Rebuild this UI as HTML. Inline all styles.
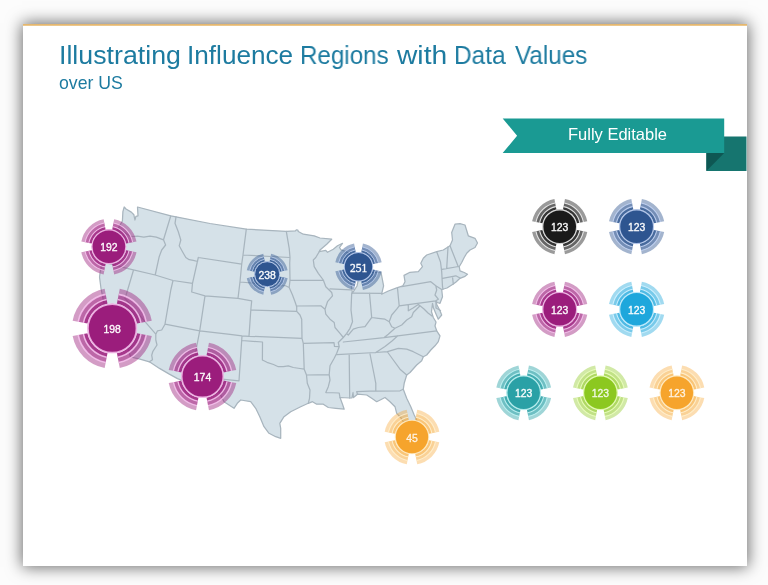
<!DOCTYPE html>
<html><head><meta charset="utf-8">
<style>
html,body{margin:0;padding:0;}
body{width:768px;height:585px;background:#fcfcfc;overflow:hidden;position:relative;font-family:"Liberation Sans",sans-serif;}
#slide{position:absolute;left:23px;top:24px;width:724px;height:542px;background:#fff;box-shadow:0 0 15px 1px rgba(0,0,0,0.6);}
#topline{position:absolute;left:23px;top:24px;width:724px;height:2px;background:linear-gradient(#dfae62,#f0cf98);}
#title{position:absolute;left:0;top:39.6px;font-size:25px;line-height:30px;color:#1d7ba0;white-space:nowrap;}
#title span{position:absolute;top:0;transform-origin:0 0;will-change:transform;}
#sub{will-change:transform;position:absolute;left:58.7px;top:73.3px;font-size:17.7px;line-height:20px;color:#1d7ba0;white-space:nowrap;}
svg{position:absolute;left:0;top:0;will-change:transform;filter:blur(0.4px);}
svg text{font-family:"Liberation Sans",sans-serif;}
#rib{will-change:transform;position:absolute;left:567.5px;top:117.1px;height:35px;line-height:35px;color:#fff;font-size:16.5px;white-space:nowrap;}
</style></head><body>
<div id="slide"></div><div id="topline"></div>
<div id="title"><span style="left:58.64px;transform:scaleX(1.0698)">Illustrating</span> <span style="left:186.59px;transform:scaleX(1.0461)">Influence</span> <span style="left:299.94px;transform:scaleX(0.9662)">Regions</span> <span style="left:396.50px;transform:scaleX(1.1278)">with</span> <span style="left:453.62px;transform:scaleX(0.9752)">Data</span> <span style="left:515.40px;transform:scaleX(0.9698)">Values</span></div>
<div id="sub">over US</div>
<svg width="768" height="585" viewBox="0 0 768 585">
<polygon points="706.4,136.5 746.5,136.5 746.5,171 706.4,171" fill="#16756f"/>
<polygon points="706.4,153 724.2,153 706.4,171" fill="#0e5753"/>
<polygon points="502.7,118.4 724.2,118.4 724.2,153.1 502.7,153.1 517.1,135.8" fill="#1a9a93"/>
<path d="M124.2,207.0L126.0,209.0L131.3,212.1L133.9,214.8L134.9,220.0L135.9,216.3L138.0,215.8L137.5,207.0L170.8,215.8L176.0,216.8L210.0,223.5L246.3,229.2L286.3,231.3L295.5,230.8L296.3,229.8L297.8,230.0L298.3,231.5L303.3,234.2L314.2,235.8L320.0,238.0L331.7,239.2L326.7,244.2L320.0,250.0L319.2,251.7L325.8,250.4L327.5,252.3L333.3,249.2L337.5,245.8L342.5,243.3L339.5,247.5L341.0,249.8L346.0,251.5L350.0,254.5L353.0,259.0L352.0,268.0L350.5,280.0L352.4,293.1L357.0,286.0L358.5,279.0L359.0,272.3L381.0,272.3L383.6,285.8L381.6,294.2L388.3,291.0L396.7,287.9L402.9,285.8L405.0,281.7L404.0,275.4L410.0,272.3L418.3,271.7L422.5,266.7L420.8,263.3L423.3,258.3L426.7,255.0L436.7,251.7L443.3,250.0L450.0,245.8L452.5,240.0L451.7,232.5L455.0,224.2L460.0,223.7L465.0,225.0L468.3,235.8L475.0,238.3L477.5,243.0L475.0,247.5L470.0,250.0L466.7,253.3L464.2,257.5L461.7,262.5L459.2,266.7L460.0,270.8L464.2,272.5L467.5,274.2L465.0,276.3L460.0,278.3L456.0,282.0L453.3,284.0L447.0,288.0L441.7,289.5L442.5,296.7L440.0,303.3L437.5,302.5L436.0,301.5L437.0,305.0L440.0,310.8L441.7,315.0L438.3,319.2L436.0,314.0L433.5,308.0L432.5,303.3L431.5,311.7L433.3,317.5L436.0,322.0L435.0,326.0L436.7,330.8L440.0,335.8L438.3,341.7L435.0,345.8L430.8,350.0L426.7,355.0L423.3,356.7L421.7,360.8L416.7,365.0L410.0,372.5L406.7,375.0L404.2,383.3L403.3,389.2L406.7,398.3L410.8,406.7L414.2,415.0L416.7,420.0L419.0,428.0L420.5,436.0L419.0,442.0L415.0,445.0L411.0,440.0L408.0,432.0L405.0,425.0L401.0,418.0L396.7,413.3L395.0,406.7L390.0,401.7L385.0,397.5L381.7,399.2L376.7,401.7L371.7,398.3L366.7,395.0L357.5,394.2L353.5,397.5L353.0,392.5L352.0,397.8L349.7,398.0L340.0,397.5L342.5,404.2L344.2,409.2L335.8,408.3L328.3,407.5L323.3,404.2L316.7,404.2L312.5,401.7L308.3,403.3L300.7,406.7L290.7,411.7L284.0,416.7L279.8,423.3L280.7,428.3L280.7,438.3L275.7,436.7L269.0,433.3L264.0,426.7L259.8,416.7L255.7,408.3L250.7,401.7L240.7,400.0L237.3,403.3L234.0,408.3L229.0,405.0L224.0,401.7L218.0,390.0L212.4,379.7L199.5,378.5L199.0,383.5L186.0,382.0L177.5,378.6L168.9,373.9L159.5,368.4L149.4,361.8L140.0,359.2L130.5,357.0L127.0,345.0L118.0,341.0L111.5,337.3L106.7,315.0L104.0,303.5L101.0,288.5L99.5,277.0L100.5,270.0L102.5,262.0L104.0,258.0L108.0,250.0L113.0,240.0L117.5,230.0L119.5,226.0L122.4,221.0L122.9,211.6Z" fill="#d5e1e8" stroke="#a8b5be" stroke-width="1.25" stroke-linejoin="round"/>
<path d="M170.8,215.8L163.5,239.8L165.6,245.0L161.7,250.0L159.2,256.7L155.2,275.0M117.5,230.0L125.0,233.0L131.0,236.5L137.5,236.1L143.8,237.1L150.0,236.1L156.3,237.1L163.5,239.8M102.5,262.0L129.2,268.8L155.2,275.0L173.0,280.5L192.5,283.3M133.3,270.8L127.1,291.7L125.0,298.4L155.8,334.2M165.0,324.2L161.7,330.0L157.5,330.8L155.8,334.2L155.8,340.0L157.0,345.0L152.9,351.3L151.7,355.2L152.5,359.8L149.4,361.8M173.0,280.5L170.8,290.0L165.0,324.2M176.0,216.8L175.0,223.3L178.3,231.7L180.8,240.0L179.2,245.8L182.5,251.7L185.8,257.5L189.2,259.7L193.3,260.3L197.6,261.5M198.3,257.5L192.5,283.3L191.7,292.0M198.3,257.5L241.7,264.2M191.7,292.0L205.0,295.8L238.0,298.3L251.7,300.8M246.3,229.2L243.0,255.0L241.7,264.2L240.0,281.7L238.0,298.3M251.7,300.8L250.8,310.0L249.0,336.3M250.8,310.0L296.7,311.3M165.0,324.2L199.7,330.8L230.0,334.3L242.0,335.8L249.0,336.3L302.0,338.3M205.0,295.8L199.7,330.8M199.7,330.8L196.7,346.7L194.0,362.0L191.0,381.0M242.0,335.8L239.0,380.8M239.0,380.8L212.4,378.2M241.6,340.5L262.5,342.0L262.4,360.0M262.4,360.0L267.0,362.3L273.5,364.5L278.3,366.7L283.3,366.7L288.3,365.8L293.3,367.5L300.0,368.5L304.2,369.2M296.7,311.3L300.0,315.0L301.7,319.2L302.0,338.3L303.3,343.3L304.2,369.2L306.5,375.0M306.5,375.0L307.3,383.3L310.0,390.0L309.5,398.3L308.3,403.3M306.5,375.0L329.2,374.7M303.3,343.3L334.0,342.6L334.5,346.5L338.8,346.7M319.2,251.7L315.8,257.5L313.3,260.0L314.2,266.7L318.3,273.3L323.3,280.0L325.8,286.7L331.7,292.5L332.5,295.8L327.5,301.7L325.0,309.2L325.8,314.2L330.0,319.2L334.2,322.5L335.0,327.5L340.0,333.3L343.3,337.5L338.3,342.5L339.2,346.7L336.7,353.3L334.2,358.3L330.0,365.8L329.2,374.7L330.0,380.0L328.3,386.7L325.8,392.5M325.8,392.5L339.2,393.0L340.0,397.5M286.3,231.3L289.2,248.3L290.0,257.5L289.7,263.3L290.0,280.0L289.2,287.5L292.5,295.0L295.0,301.7L296.7,306.7L296.7,311.3M243.0,255.0L290.0,257.5M240.0,282.0L270.0,284.5L280.0,286.0L285.0,285.5L289.2,287.5M290.0,280.3L323.3,280.3M296.7,306.0L320.8,305.8L325.0,309.2M330.0,288.8L351.0,289.8M351.7,293.0L351.0,310.0L352.5,321.7L350.0,328.3L346.7,333.3L343.3,337.5M346.7,333.8L348.3,335.0L353.3,329.2L358.3,327.5L365.0,326.7L369.2,320.8L371.7,317.5L378.3,318.3L385.0,319.2L389.2,321.7L391.7,315.0L396.7,309.2L399.2,305.8M369.5,293.2L371.7,317.5M352.4,293.1L381.7,293.3M397.5,288.3L399.2,305.8M399.2,305.8L435.8,300.8M401.7,286.7L430.8,281.7L435.8,285.8L436.7,290.0L435.0,295.0L438.3,299.2L435.8,300.8M435.8,285.8L441.7,289.5M436.7,251.7L440.5,262.0L441.7,271.7L442.5,286.7L443.0,289.5M448.0,247.0L446.7,268.5M450.0,245.8L458.3,266.7M442.0,269.3L458.5,266.5M442.5,278.3L455.8,275.8L460.0,278.0M452.5,276.7L453.3,284.0M436.0,301.5L436.0,308.0L440.5,310.5M395.0,328.3L401.7,325.0L406.7,320.0L411.7,316.7L413.3,312.5L418.3,307.5L420.0,305.8M408.3,304.7L408.3,310.8L413.0,308.0L418.3,304.5L420.0,305.8L424.0,309.0L428.0,313.0L432.0,316.0M389.2,321.7L391.7,326.7L395.0,328.3M395.0,328.3L388.3,334.2L384.2,337.5M343.3,342.0L384.2,337.7L436.7,330.8M397.5,336.0L392.0,341.0L385.0,346.5L375.8,352.5M336.7,354.7L375.8,352.5L387.5,351.7M387.5,351.7L398.3,348.3L406.7,349.2L413.3,351.7L423.3,356.7M387.5,352.0L393.3,360.0L400.0,369.2L406.7,375.0M349.2,355.0L349.7,398.0M370.0,354.0L374.2,375.0L375.8,383.3L375.8,390.8M357.5,394.2L356.7,391.7L375.8,390.8M375.8,391.2L400.0,390.8L403.3,389.2" fill="none" stroke="#a8b5be" stroke-width="1.25" stroke-linejoin="round" stroke-linecap="round"/>
<g transform="translate(108.90,246.80)">
<path d="M20.05,3.90A20.43,20.43 0 0 1 3.83,20.07L3.28,17.17A17.48,17.48 0 0 0 17.16,3.33ZM-3.83,20.07A20.43,20.43 0 0 1 -20.05,3.90L-17.16,3.33A17.48,17.48 0 0 0 -3.28,17.17ZM-20.05,-3.90A20.43,20.43 0 0 1 -3.83,-20.07L-3.28,-17.17A17.48,17.48 0 0 0 -17.16,-3.33ZM3.83,-20.07A20.43,20.43 0 0 1 20.05,-3.90L17.16,-3.33A17.48,17.48 0 0 0 3.28,-17.17Z" fill="#9b1d7c" fill-opacity="0.88"/>
<path d="M23.72,4.61A24.17,24.17 0 0 1 4.53,23.74L3.83,20.07A20.43,20.43 0 0 0 20.05,3.90ZM-4.53,23.74A24.17,24.17 0 0 1 -23.72,4.61L-20.05,3.90A20.43,20.43 0 0 0 -3.83,20.07ZM-23.72,-4.61A24.17,24.17 0 0 1 -4.53,-23.74L-3.83,-20.07A20.43,20.43 0 0 0 -20.05,-3.90ZM4.53,-23.74A24.17,24.17 0 0 1 23.72,-4.61L20.05,-3.90A20.43,20.43 0 0 0 3.83,-20.07Z" fill="#9b1d7c" fill-opacity="0.67"/>
<path d="M27.58,5.36A28.10,28.10 0 0 1 5.27,27.60L4.53,23.74A24.17,24.17 0 0 0 23.72,4.61ZM-5.27,27.60A28.10,28.10 0 0 1 -27.58,5.36L-23.72,4.61A24.17,24.17 0 0 0 -4.53,23.74ZM-27.58,-5.36A28.10,28.10 0 0 1 -5.27,-27.60L-4.53,-23.74A24.17,24.17 0 0 0 -23.72,-4.61ZM5.27,-27.60A28.10,28.10 0 0 1 27.58,-5.36L23.72,-4.61A24.17,24.17 0 0 0 4.53,-23.74Z" fill="#9b1d7c" fill-opacity="0.44"/>
<path d="M20.05,3.90A20.43,20.43 0 0 1 3.83,20.07M-3.83,20.07A20.43,20.43 0 0 1 -20.05,3.90M-20.05,-3.90A20.43,20.43 0 0 1 -3.83,-20.07M3.83,-20.07A20.43,20.43 0 0 1 20.05,-3.90" fill="none" stroke="#f7c3ee" stroke-opacity="0.85" stroke-width="1.07"/>
<path d="M23.72,4.61A24.17,24.17 0 0 1 4.53,23.74M-4.53,23.74A24.17,24.17 0 0 1 -23.72,4.61M-23.72,-4.61A24.17,24.17 0 0 1 -4.53,-23.74M4.53,-23.74A24.17,24.17 0 0 1 23.72,-4.61" fill="none" stroke="#f7c3ee" stroke-opacity="0.85" stroke-width="1.12"/>
<circle r="17.20" fill="#9b1d7c"/>
<circle r="16.94" fill="none" stroke="#f7c3ee" stroke-opacity="0.85" stroke-width="1.24"/>
<text x="0" y="4.62" font-size="10.4" text-anchor="middle" style="font-family:Liberation Sans,sans-serif" fill="#fff" fill-opacity="0.95" stroke="#fff" stroke-opacity="0.95" stroke-width="0.35" stroke-linejoin="round">192</text>
</g>
<g transform="translate(112.20,328.40)">
<path d="M28.76,5.59A29.30,29.30 0 0 1 5.49,28.78L4.70,24.62A25.07,25.07 0 0 0 24.61,4.78ZM-5.49,28.78A29.30,29.30 0 0 1 -28.76,5.59L-24.61,4.78A25.07,25.07 0 0 0 -4.70,24.62ZM-28.76,-5.59A29.30,29.30 0 0 1 -5.49,-28.78L-4.70,-24.62A25.07,25.07 0 0 0 -24.61,-4.78ZM5.49,-28.78A29.30,29.30 0 0 1 28.76,-5.59L24.61,-4.78A25.07,25.07 0 0 0 4.70,-24.62Z" fill="#9b1d7c" fill-opacity="0.88"/>
<path d="M34.02,6.61A34.66,34.66 0 0 1 6.49,34.04L5.49,28.78A29.30,29.30 0 0 0 28.76,5.59ZM-6.49,34.04A34.66,34.66 0 0 1 -34.02,6.61L-28.76,5.59A29.30,29.30 0 0 0 -5.49,28.78ZM-34.02,-6.61A34.66,34.66 0 0 1 -6.49,-34.04L-5.49,-28.78A29.30,29.30 0 0 0 -28.76,-5.59ZM6.49,-34.04A34.66,34.66 0 0 1 34.02,-6.61L28.76,-5.59A29.30,29.30 0 0 0 5.49,-28.78Z" fill="#9b1d7c" fill-opacity="0.67"/>
<path d="M39.56,7.69A40.30,40.30 0 0 1 7.55,39.59L6.49,34.04A34.66,34.66 0 0 0 34.02,6.61ZM-7.55,39.59A40.30,40.30 0 0 1 -39.56,7.69L-34.02,6.61A34.66,34.66 0 0 0 -6.49,34.04ZM-39.56,-7.69A40.30,40.30 0 0 1 -7.55,-39.59L-6.49,-34.04A34.66,34.66 0 0 0 -34.02,-6.61ZM7.55,-39.59A40.30,40.30 0 0 1 39.56,-7.69L34.02,-6.61A34.66,34.66 0 0 0 6.49,-34.04Z" fill="#9b1d7c" fill-opacity="0.44"/>
<path d="M28.76,5.59A29.30,29.30 0 0 1 5.49,28.78M-5.49,28.78A29.30,29.30 0 0 1 -28.76,5.59M-28.76,-5.59A29.30,29.30 0 0 1 -5.49,-28.78M5.49,-28.78A29.30,29.30 0 0 1 28.76,-5.59" fill="none" stroke="#f7c3ee" stroke-opacity="0.85" stroke-width="1.53"/>
<path d="M34.02,6.61A34.66,34.66 0 0 1 6.49,34.04M-6.49,34.04A34.66,34.66 0 0 1 -34.02,6.61M-34.02,-6.61A34.66,34.66 0 0 1 -6.49,-34.04M6.49,-34.04A34.66,34.66 0 0 1 34.02,-6.61" fill="none" stroke="#f7c3ee" stroke-opacity="0.85" stroke-width="1.61"/>
<circle r="24.66" fill="#9b1d7c"/>
<circle r="24.30" fill="none" stroke="#f7c3ee" stroke-opacity="0.85" stroke-width="1.77"/>
<text x="0" y="4.62" font-size="10.4" text-anchor="middle" style="font-family:Liberation Sans,sans-serif" fill="#fff" fill-opacity="0.95" stroke="#fff" stroke-opacity="0.95" stroke-width="0.35" stroke-linejoin="round">198</text>
</g>
<g transform="translate(202.50,376.50)">
<path d="M24.55,4.77A25.01,25.01 0 0 1 4.69,24.57L4.01,21.02A21.40,21.40 0 0 0 21.00,4.08ZM-4.69,24.57A25.01,25.01 0 0 1 -24.55,4.77L-21.00,4.08A21.40,21.40 0 0 0 -4.01,21.02ZM-24.55,-4.77A25.01,25.01 0 0 1 -4.69,-24.57L-4.01,-21.02A21.40,21.40 0 0 0 -21.00,-4.08ZM4.69,-24.57A25.01,25.01 0 0 1 24.55,-4.77L21.00,-4.08A21.40,21.40 0 0 0 4.01,-21.02Z" fill="#9b1d7c" fill-opacity="0.88"/>
<path d="M29.04,5.64A29.58,29.58 0 0 1 5.54,29.06L4.69,24.57A25.01,25.01 0 0 0 24.55,4.77ZM-5.54,29.06A29.58,29.58 0 0 1 -29.04,5.64L-24.55,4.77A25.01,25.01 0 0 0 -4.69,24.57ZM-29.04,-5.64A29.58,29.58 0 0 1 -5.54,-29.06L-4.69,-24.57A25.01,25.01 0 0 0 -24.55,-4.77ZM5.54,-29.06A29.58,29.58 0 0 1 29.04,-5.64L24.55,-4.77A25.01,25.01 0 0 0 4.69,-24.57Z" fill="#9b1d7c" fill-opacity="0.67"/>
<path d="M33.77,6.56A34.40,34.40 0 0 1 6.45,33.79L5.54,29.06A29.58,29.58 0 0 0 29.04,5.64ZM-6.45,33.79A34.40,34.40 0 0 1 -33.77,6.56L-29.04,5.64A29.58,29.58 0 0 0 -5.54,29.06ZM-33.77,-6.56A34.40,34.40 0 0 1 -6.45,-33.79L-5.54,-29.06A29.58,29.58 0 0 0 -29.04,-5.64ZM6.45,-33.79A34.40,34.40 0 0 1 33.77,-6.56L29.04,-5.64A29.58,29.58 0 0 0 5.54,-29.06Z" fill="#9b1d7c" fill-opacity="0.44"/>
<path d="M24.55,4.77A25.01,25.01 0 0 1 4.69,24.57M-4.69,24.57A25.01,25.01 0 0 1 -24.55,4.77M-24.55,-4.77A25.01,25.01 0 0 1 -4.69,-24.57M4.69,-24.57A25.01,25.01 0 0 1 24.55,-4.77" fill="none" stroke="#f7c3ee" stroke-opacity="0.85" stroke-width="1.31"/>
<path d="M29.04,5.64A29.58,29.58 0 0 1 5.54,29.06M-5.54,29.06A29.58,29.58 0 0 1 -29.04,5.64M-29.04,-5.64A29.58,29.58 0 0 1 -5.54,-29.06M5.54,-29.06A29.58,29.58 0 0 1 29.04,-5.64" fill="none" stroke="#f7c3ee" stroke-opacity="0.85" stroke-width="1.38"/>
<circle r="21.05" fill="#9b1d7c"/>
<circle r="20.74" fill="none" stroke="#f7c3ee" stroke-opacity="0.85" stroke-width="1.51"/>
<text x="0" y="4.62" font-size="10.4" text-anchor="middle" style="font-family:Liberation Sans,sans-serif" fill="#fff" fill-opacity="0.95" stroke="#fff" stroke-opacity="0.95" stroke-width="0.35" stroke-linejoin="round">174</text>
</g>
<g transform="translate(267.20,274.20)">
<path d="M14.84,2.89A15.12,15.12 0 0 1 2.83,14.85L2.42,12.71A12.94,12.94 0 0 0 12.70,2.47ZM-2.83,14.85A15.12,15.12 0 0 1 -14.84,2.89L-12.70,2.47A12.94,12.94 0 0 0 -2.42,12.71ZM-14.84,-2.89A15.12,15.12 0 0 1 -2.83,-14.85L-2.42,-12.71A12.94,12.94 0 0 0 -12.70,-2.47ZM2.83,-14.85A15.12,15.12 0 0 1 14.84,-2.89L12.70,-2.47A12.94,12.94 0 0 0 2.42,-12.71Z" fill="#2e5590" fill-opacity="0.88"/>
<path d="M17.56,3.41A17.89,17.89 0 0 1 3.35,17.57L2.83,14.85A15.12,15.12 0 0 0 14.84,2.89ZM-3.35,17.57A17.89,17.89 0 0 1 -17.56,3.41L-14.84,2.89A15.12,15.12 0 0 0 -2.83,14.85ZM-17.56,-3.41A17.89,17.89 0 0 1 -3.35,-17.57L-2.83,-14.85A15.12,15.12 0 0 0 -14.84,-2.89ZM3.35,-17.57A17.89,17.89 0 0 1 17.56,-3.41L14.84,-2.89A15.12,15.12 0 0 0 2.83,-14.85Z" fill="#2e5590" fill-opacity="0.67"/>
<path d="M20.42,3.97A20.80,20.80 0 0 1 3.90,20.43L3.35,17.57A17.89,17.89 0 0 0 17.56,3.41ZM-3.90,20.43A20.80,20.80 0 0 1 -20.42,3.97L-17.56,3.41A17.89,17.89 0 0 0 -3.35,17.57ZM-20.42,-3.97A20.80,20.80 0 0 1 -3.90,-20.43L-3.35,-17.57A17.89,17.89 0 0 0 -17.56,-3.41ZM3.90,-20.43A20.80,20.80 0 0 1 20.42,-3.97L17.56,-3.41A17.89,17.89 0 0 0 3.35,-17.57Z" fill="#2e5590" fill-opacity="0.44"/>
<path d="M14.84,2.89A15.12,15.12 0 0 1 2.83,14.85M-2.83,14.85A15.12,15.12 0 0 1 -14.84,2.89M-14.84,-2.89A15.12,15.12 0 0 1 -2.83,-14.85M2.83,-14.85A15.12,15.12 0 0 1 14.84,-2.89" fill="none" stroke="#c3d4f5" stroke-opacity="0.85" stroke-width="0.85"/>
<path d="M17.56,3.41A17.89,17.89 0 0 1 3.35,17.57M-3.35,17.57A17.89,17.89 0 0 1 -17.56,3.41M-17.56,-3.41A17.89,17.89 0 0 1 -3.35,-17.57M3.35,-17.57A17.89,17.89 0 0 1 17.56,-3.41" fill="none" stroke="#c3d4f5" stroke-opacity="0.85" stroke-width="0.85"/>
<circle r="12.73" fill="#2e5590"/>
<circle r="12.54" fill="none" stroke="#c3d4f5" stroke-opacity="0.85" stroke-width="1.00"/>
<text x="0" y="4.62" font-size="10.4" text-anchor="middle" style="font-family:Liberation Sans,sans-serif" fill="#fff" fill-opacity="0.95" stroke="#fff" stroke-opacity="0.95" stroke-width="0.35" stroke-linejoin="round">238</text>
</g>
<g transform="translate(358.50,266.80)">
<path d="M16.84,3.27A17.16,17.16 0 0 1 3.21,16.85L2.75,14.42A14.68,14.68 0 0 0 14.41,2.80ZM-3.21,16.85A17.16,17.16 0 0 1 -16.84,3.27L-14.41,2.80A14.68,14.68 0 0 0 -2.75,14.42ZM-16.84,-3.27A17.16,17.16 0 0 1 -3.21,-16.85L-2.75,-14.42A14.68,14.68 0 0 0 -14.41,-2.80ZM3.21,-16.85A17.16,17.16 0 0 1 16.84,-3.27L14.41,-2.80A14.68,14.68 0 0 0 2.75,-14.42Z" fill="#2e5590" fill-opacity="0.88"/>
<path d="M19.92,3.87A20.30,20.30 0 0 1 3.80,19.94L3.21,16.85A17.16,17.16 0 0 0 16.84,3.27ZM-3.80,19.94A20.30,20.30 0 0 1 -19.92,3.87L-16.84,3.27A17.16,17.16 0 0 0 -3.21,16.85ZM-19.92,-3.87A20.30,20.30 0 0 1 -3.80,-19.94L-3.21,-16.85A17.16,17.16 0 0 0 -16.84,-3.27ZM3.80,-19.94A20.30,20.30 0 0 1 19.92,-3.87L16.84,-3.27A17.16,17.16 0 0 0 3.21,-16.85Z" fill="#2e5590" fill-opacity="0.67"/>
<path d="M23.17,4.50A23.60,23.60 0 0 1 4.42,23.18L3.80,19.94A20.30,20.30 0 0 0 19.92,3.87ZM-4.42,23.18A23.60,23.60 0 0 1 -23.17,4.50L-19.92,3.87A20.30,20.30 0 0 0 -3.80,19.94ZM-23.17,-4.50A23.60,23.60 0 0 1 -4.42,-23.18L-3.80,-19.94A20.30,20.30 0 0 0 -19.92,-3.87ZM4.42,-23.18A23.60,23.60 0 0 1 23.17,-4.50L19.92,-3.87A20.30,20.30 0 0 0 3.80,-19.94Z" fill="#2e5590" fill-opacity="0.44"/>
<path d="M16.84,3.27A17.16,17.16 0 0 1 3.21,16.85M-3.21,16.85A17.16,17.16 0 0 1 -16.84,3.27M-16.84,-3.27A17.16,17.16 0 0 1 -3.21,-16.85M3.21,-16.85A17.16,17.16 0 0 1 16.84,-3.27" fill="none" stroke="#c3d4f5" stroke-opacity="0.85" stroke-width="0.90"/>
<path d="M19.92,3.87A20.30,20.30 0 0 1 3.80,19.94M-3.80,19.94A20.30,20.30 0 0 1 -19.92,3.87M-19.92,-3.87A20.30,20.30 0 0 1 -3.80,-19.94M3.80,-19.94A20.30,20.30 0 0 1 19.92,-3.87" fill="none" stroke="#c3d4f5" stroke-opacity="0.85" stroke-width="0.94"/>
<circle r="14.44" fill="#2e5590"/>
<circle r="14.23" fill="none" stroke="#c3d4f5" stroke-opacity="0.85" stroke-width="1.04"/>
<text x="0" y="5.02" font-size="11.5" text-anchor="middle" style="font-family:Liberation Serif,serif" fill="#fff" fill-opacity="0.95" stroke="#fff" stroke-opacity="0.95" stroke-width="0.35" stroke-linejoin="round">251</text>
</g>
<g transform="translate(412.00,437.00)">
<path d="M19.84,3.86A20.21,20.21 0 0 1 3.79,19.85L3.24,16.99A17.29,17.29 0 0 0 16.97,3.30ZM-3.79,19.85A20.21,20.21 0 0 1 -19.84,3.86L-16.97,3.30A17.29,17.29 0 0 0 -3.24,16.99ZM-19.84,-3.86A20.21,20.21 0 0 1 -3.79,-19.85L-3.24,-16.99A17.29,17.29 0 0 0 -16.97,-3.30ZM3.79,-19.85A20.21,20.21 0 0 1 19.84,-3.86L16.97,-3.30A17.29,17.29 0 0 0 3.24,-16.99Z" fill="#f6a42c" fill-opacity="0.64"/>
<path d="M23.47,4.56A23.91,23.91 0 0 1 4.48,23.48L3.79,19.85A20.21,20.21 0 0 0 19.84,3.86ZM-4.48,23.48A23.91,23.91 0 0 1 -23.47,4.56L-19.84,3.86A20.21,20.21 0 0 0 -3.79,19.85ZM-23.47,-4.56A23.91,23.91 0 0 1 -4.48,-23.48L-3.79,-19.85A20.21,20.21 0 0 0 -19.84,-3.86ZM4.48,-23.48A23.91,23.91 0 0 1 23.47,-4.56L19.84,-3.86A20.21,20.21 0 0 0 3.79,-19.85Z" fill="#f6a42c" fill-opacity="0.5"/>
<path d="M27.29,5.30A27.80,27.80 0 0 1 5.21,27.31L4.48,23.48A23.91,23.91 0 0 0 23.47,4.56ZM-5.21,27.31A27.80,27.80 0 0 1 -27.29,5.30L-23.47,4.56A23.91,23.91 0 0 0 -4.48,23.48ZM-27.29,-5.30A27.80,27.80 0 0 1 -5.21,-27.31L-4.48,-23.48A23.91,23.91 0 0 0 -23.47,-4.56ZM5.21,-27.31A27.80,27.80 0 0 1 27.29,-5.30L23.47,-4.56A23.91,23.91 0 0 0 4.48,-23.48Z" fill="#f6a42c" fill-opacity="0.37"/>
<path d="M19.84,3.86A20.21,20.21 0 0 1 3.79,19.85M-3.79,19.85A20.21,20.21 0 0 1 -19.84,3.86M-19.84,-3.86A20.21,20.21 0 0 1 -3.79,-19.85M3.79,-19.85A20.21,20.21 0 0 1 19.84,-3.86" fill="none" stroke="#fff1cf" stroke-opacity="0.85" stroke-width="1.06"/>
<path d="M23.47,4.56A23.91,23.91 0 0 1 4.48,23.48M-4.48,23.48A23.91,23.91 0 0 1 -23.47,4.56M-23.47,-4.56A23.91,23.91 0 0 1 -4.48,-23.48M4.48,-23.48A23.91,23.91 0 0 1 23.47,-4.56" fill="none" stroke="#fff1cf" stroke-opacity="0.85" stroke-width="1.11"/>
<circle r="17.01" fill="#f6a42c"/>
<circle r="16.76" fill="none" stroke="#fff1cf" stroke-opacity="0.85" stroke-width="1.22"/>
<text x="0" y="4.62" font-size="10.4" text-anchor="middle" style="font-family:Liberation Sans,sans-serif" fill="#fff" fill-opacity="0.78" stroke="#fff" stroke-opacity="0.78" stroke-width="0.35" stroke-linejoin="round">45</text>
</g>
<g transform="translate(559.70,226.70)">
<path d="M20.05,3.90A20.43,20.43 0 0 1 3.83,20.07L3.28,17.17A17.48,17.48 0 0 0 17.16,3.33ZM-3.83,20.07A20.43,20.43 0 0 1 -20.05,3.90L-17.16,3.33A17.48,17.48 0 0 0 -3.28,17.17ZM-20.05,-3.90A20.43,20.43 0 0 1 -3.83,-20.07L-3.28,-17.17A17.48,17.48 0 0 0 -17.16,-3.33ZM3.83,-20.07A20.43,20.43 0 0 1 20.05,-3.90L17.16,-3.33A17.48,17.48 0 0 0 3.28,-17.17Z" fill="#1a1a1a" fill-opacity="0.88"/>
<path d="M23.72,4.61A24.17,24.17 0 0 1 4.53,23.74L3.83,20.07A20.43,20.43 0 0 0 20.05,3.90ZM-4.53,23.74A24.17,24.17 0 0 1 -23.72,4.61L-20.05,3.90A20.43,20.43 0 0 0 -3.83,20.07ZM-23.72,-4.61A24.17,24.17 0 0 1 -4.53,-23.74L-3.83,-20.07A20.43,20.43 0 0 0 -20.05,-3.90ZM4.53,-23.74A24.17,24.17 0 0 1 23.72,-4.61L20.05,-3.90A20.43,20.43 0 0 0 3.83,-20.07Z" fill="#1a1a1a" fill-opacity="0.67"/>
<path d="M27.58,5.36A28.10,28.10 0 0 1 5.27,27.60L4.53,23.74A24.17,24.17 0 0 0 23.72,4.61ZM-5.27,27.60A28.10,28.10 0 0 1 -27.58,5.36L-23.72,4.61A24.17,24.17 0 0 0 -4.53,23.74ZM-27.58,-5.36A28.10,28.10 0 0 1 -5.27,-27.60L-4.53,-23.74A24.17,24.17 0 0 0 -23.72,-4.61ZM5.27,-27.60A28.10,28.10 0 0 1 27.58,-5.36L23.72,-4.61A24.17,24.17 0 0 0 4.53,-23.74Z" fill="#1a1a1a" fill-opacity="0.44"/>
<path d="M20.05,3.90A20.43,20.43 0 0 1 3.83,20.07M-3.83,20.07A20.43,20.43 0 0 1 -20.05,3.90M-20.05,-3.90A20.43,20.43 0 0 1 -3.83,-20.07M3.83,-20.07A20.43,20.43 0 0 1 20.05,-3.90" fill="none" stroke="#f2f2f2" stroke-opacity="0.85" stroke-width="1.07"/>
<path d="M23.72,4.61A24.17,24.17 0 0 1 4.53,23.74M-4.53,23.74A24.17,24.17 0 0 1 -23.72,4.61M-23.72,-4.61A24.17,24.17 0 0 1 -4.53,-23.74M4.53,-23.74A24.17,24.17 0 0 1 23.72,-4.61" fill="none" stroke="#f2f2f2" stroke-opacity="0.85" stroke-width="1.12"/>
<circle r="17.20" fill="#1a1a1a"/>
<circle r="16.94" fill="none" stroke="#f2f2f2" stroke-opacity="0.85" stroke-width="1.24"/>
<text x="0" y="4.62" font-size="10.4" text-anchor="middle" style="font-family:Liberation Sans,sans-serif" fill="#fff" fill-opacity="0.95" stroke="#fff" stroke-opacity="0.95" stroke-width="0.35" stroke-linejoin="round">123</text>
</g>
<g transform="translate(636.60,226.70)">
<path d="M20.05,3.90A20.43,20.43 0 0 1 3.83,20.07L3.28,17.17A17.48,17.48 0 0 0 17.16,3.33ZM-3.83,20.07A20.43,20.43 0 0 1 -20.05,3.90L-17.16,3.33A17.48,17.48 0 0 0 -3.28,17.17ZM-20.05,-3.90A20.43,20.43 0 0 1 -3.83,-20.07L-3.28,-17.17A17.48,17.48 0 0 0 -17.16,-3.33ZM3.83,-20.07A20.43,20.43 0 0 1 20.05,-3.90L17.16,-3.33A17.48,17.48 0 0 0 3.28,-17.17Z" fill="#2e5590" fill-opacity="0.88"/>
<path d="M23.72,4.61A24.17,24.17 0 0 1 4.53,23.74L3.83,20.07A20.43,20.43 0 0 0 20.05,3.90ZM-4.53,23.74A24.17,24.17 0 0 1 -23.72,4.61L-20.05,3.90A20.43,20.43 0 0 0 -3.83,20.07ZM-23.72,-4.61A24.17,24.17 0 0 1 -4.53,-23.74L-3.83,-20.07A20.43,20.43 0 0 0 -20.05,-3.90ZM4.53,-23.74A24.17,24.17 0 0 1 23.72,-4.61L20.05,-3.90A20.43,20.43 0 0 0 3.83,-20.07Z" fill="#2e5590" fill-opacity="0.67"/>
<path d="M27.58,5.36A28.10,28.10 0 0 1 5.27,27.60L4.53,23.74A24.17,24.17 0 0 0 23.72,4.61ZM-5.27,27.60A28.10,28.10 0 0 1 -27.58,5.36L-23.72,4.61A24.17,24.17 0 0 0 -4.53,23.74ZM-27.58,-5.36A28.10,28.10 0 0 1 -5.27,-27.60L-4.53,-23.74A24.17,24.17 0 0 0 -23.72,-4.61ZM5.27,-27.60A28.10,28.10 0 0 1 27.58,-5.36L23.72,-4.61A24.17,24.17 0 0 0 4.53,-23.74Z" fill="#2e5590" fill-opacity="0.44"/>
<path d="M20.05,3.90A20.43,20.43 0 0 1 3.83,20.07M-3.83,20.07A20.43,20.43 0 0 1 -20.05,3.90M-20.05,-3.90A20.43,20.43 0 0 1 -3.83,-20.07M3.83,-20.07A20.43,20.43 0 0 1 20.05,-3.90" fill="none" stroke="#c3d4f5" stroke-opacity="0.85" stroke-width="1.07"/>
<path d="M23.72,4.61A24.17,24.17 0 0 1 4.53,23.74M-4.53,23.74A24.17,24.17 0 0 1 -23.72,4.61M-23.72,-4.61A24.17,24.17 0 0 1 -4.53,-23.74M4.53,-23.74A24.17,24.17 0 0 1 23.72,-4.61" fill="none" stroke="#c3d4f5" stroke-opacity="0.85" stroke-width="1.12"/>
<circle r="17.20" fill="#2e5590"/>
<circle r="16.94" fill="none" stroke="#c3d4f5" stroke-opacity="0.85" stroke-width="1.24"/>
<text x="0" y="4.62" font-size="10.4" text-anchor="middle" style="font-family:Liberation Sans,sans-serif" fill="#fff" fill-opacity="0.95" stroke="#fff" stroke-opacity="0.95" stroke-width="0.35" stroke-linejoin="round">123</text>
</g>
<g transform="translate(559.70,309.30)">
<path d="M20.05,3.90A20.43,20.43 0 0 1 3.83,20.07L3.28,17.17A17.48,17.48 0 0 0 17.16,3.33ZM-3.83,20.07A20.43,20.43 0 0 1 -20.05,3.90L-17.16,3.33A17.48,17.48 0 0 0 -3.28,17.17ZM-20.05,-3.90A20.43,20.43 0 0 1 -3.83,-20.07L-3.28,-17.17A17.48,17.48 0 0 0 -17.16,-3.33ZM3.83,-20.07A20.43,20.43 0 0 1 20.05,-3.90L17.16,-3.33A17.48,17.48 0 0 0 3.28,-17.17Z" fill="#9b1d7c" fill-opacity="0.88"/>
<path d="M23.72,4.61A24.17,24.17 0 0 1 4.53,23.74L3.83,20.07A20.43,20.43 0 0 0 20.05,3.90ZM-4.53,23.74A24.17,24.17 0 0 1 -23.72,4.61L-20.05,3.90A20.43,20.43 0 0 0 -3.83,20.07ZM-23.72,-4.61A24.17,24.17 0 0 1 -4.53,-23.74L-3.83,-20.07A20.43,20.43 0 0 0 -20.05,-3.90ZM4.53,-23.74A24.17,24.17 0 0 1 23.72,-4.61L20.05,-3.90A20.43,20.43 0 0 0 3.83,-20.07Z" fill="#9b1d7c" fill-opacity="0.67"/>
<path d="M27.58,5.36A28.10,28.10 0 0 1 5.27,27.60L4.53,23.74A24.17,24.17 0 0 0 23.72,4.61ZM-5.27,27.60A28.10,28.10 0 0 1 -27.58,5.36L-23.72,4.61A24.17,24.17 0 0 0 -4.53,23.74ZM-27.58,-5.36A28.10,28.10 0 0 1 -5.27,-27.60L-4.53,-23.74A24.17,24.17 0 0 0 -23.72,-4.61ZM5.27,-27.60A28.10,28.10 0 0 1 27.58,-5.36L23.72,-4.61A24.17,24.17 0 0 0 4.53,-23.74Z" fill="#9b1d7c" fill-opacity="0.44"/>
<path d="M20.05,3.90A20.43,20.43 0 0 1 3.83,20.07M-3.83,20.07A20.43,20.43 0 0 1 -20.05,3.90M-20.05,-3.90A20.43,20.43 0 0 1 -3.83,-20.07M3.83,-20.07A20.43,20.43 0 0 1 20.05,-3.90" fill="none" stroke="#f7c3ee" stroke-opacity="0.85" stroke-width="1.07"/>
<path d="M23.72,4.61A24.17,24.17 0 0 1 4.53,23.74M-4.53,23.74A24.17,24.17 0 0 1 -23.72,4.61M-23.72,-4.61A24.17,24.17 0 0 1 -4.53,-23.74M4.53,-23.74A24.17,24.17 0 0 1 23.72,-4.61" fill="none" stroke="#f7c3ee" stroke-opacity="0.85" stroke-width="1.12"/>
<circle r="17.20" fill="#9b1d7c"/>
<circle r="16.94" fill="none" stroke="#f7c3ee" stroke-opacity="0.85" stroke-width="1.24"/>
<text x="0" y="4.62" font-size="10.4" text-anchor="middle" style="font-family:Liberation Sans,sans-serif" fill="#fff" fill-opacity="0.95" stroke="#fff" stroke-opacity="0.95" stroke-width="0.35" stroke-linejoin="round">123</text>
</g>
<g transform="translate(636.60,309.30)">
<path d="M20.05,3.90A20.43,20.43 0 0 1 3.83,20.07L3.28,17.17A17.48,17.48 0 0 0 17.16,3.33ZM-3.83,20.07A20.43,20.43 0 0 1 -20.05,3.90L-17.16,3.33A17.48,17.48 0 0 0 -3.28,17.17ZM-20.05,-3.90A20.43,20.43 0 0 1 -3.83,-20.07L-3.28,-17.17A17.48,17.48 0 0 0 -17.16,-3.33ZM3.83,-20.07A20.43,20.43 0 0 1 20.05,-3.90L17.16,-3.33A17.48,17.48 0 0 0 3.28,-17.17Z" fill="#1ea7dc" fill-opacity="0.78"/>
<path d="M23.72,4.61A24.17,24.17 0 0 1 4.53,23.74L3.83,20.07A20.43,20.43 0 0 0 20.05,3.90ZM-4.53,23.74A24.17,24.17 0 0 1 -23.72,4.61L-20.05,3.90A20.43,20.43 0 0 0 -3.83,20.07ZM-23.72,-4.61A24.17,24.17 0 0 1 -4.53,-23.74L-3.83,-20.07A20.43,20.43 0 0 0 -20.05,-3.90ZM4.53,-23.74A24.17,24.17 0 0 1 23.72,-4.61L20.05,-3.90A20.43,20.43 0 0 0 3.83,-20.07Z" fill="#1ea7dc" fill-opacity="0.6"/>
<path d="M27.58,5.36A28.10,28.10 0 0 1 5.27,27.60L4.53,23.74A24.17,24.17 0 0 0 23.72,4.61ZM-5.27,27.60A28.10,28.10 0 0 1 -27.58,5.36L-23.72,4.61A24.17,24.17 0 0 0 -4.53,23.74ZM-27.58,-5.36A28.10,28.10 0 0 1 -5.27,-27.60L-4.53,-23.74A24.17,24.17 0 0 0 -23.72,-4.61ZM5.27,-27.60A28.10,28.10 0 0 1 27.58,-5.36L23.72,-4.61A24.17,24.17 0 0 0 4.53,-23.74Z" fill="#1ea7dc" fill-opacity="0.42"/>
<path d="M20.05,3.90A20.43,20.43 0 0 1 3.83,20.07M-3.83,20.07A20.43,20.43 0 0 1 -20.05,3.90M-20.05,-3.90A20.43,20.43 0 0 1 -3.83,-20.07M3.83,-20.07A20.43,20.43 0 0 1 20.05,-3.90" fill="none" stroke="#d3f2ff" stroke-opacity="0.85" stroke-width="1.07"/>
<path d="M23.72,4.61A24.17,24.17 0 0 1 4.53,23.74M-4.53,23.74A24.17,24.17 0 0 1 -23.72,4.61M-23.72,-4.61A24.17,24.17 0 0 1 -4.53,-23.74M4.53,-23.74A24.17,24.17 0 0 1 23.72,-4.61" fill="none" stroke="#d3f2ff" stroke-opacity="0.85" stroke-width="1.12"/>
<circle r="17.20" fill="#1ea7dc"/>
<circle r="16.94" fill="none" stroke="#d3f2ff" stroke-opacity="0.85" stroke-width="1.24"/>
<text x="0" y="4.62" font-size="10.4" text-anchor="middle" style="font-family:Liberation Sans,sans-serif" fill="#fff" fill-opacity="0.95" stroke="#fff" stroke-opacity="0.95" stroke-width="0.35" stroke-linejoin="round">123</text>
</g>
<g transform="translate(523.70,392.80)">
<path d="M19.91,3.87A20.28,20.28 0 0 1 3.80,19.92L3.25,17.05A17.35,17.35 0 0 0 17.03,3.31ZM-3.80,19.92A20.28,20.28 0 0 1 -19.91,3.87L-17.03,3.31A17.35,17.35 0 0 0 -3.25,17.05ZM-19.91,-3.87A20.28,20.28 0 0 1 -3.80,-19.92L-3.25,-17.05A17.35,17.35 0 0 0 -17.03,-3.31ZM3.80,-19.92A20.28,20.28 0 0 1 19.91,-3.87L17.03,-3.31A17.35,17.35 0 0 0 3.25,-17.05Z" fill="#2aa1a6" fill-opacity="0.88"/>
<path d="M23.55,4.58A23.99,23.99 0 0 1 4.50,23.57L3.80,19.92A20.28,20.28 0 0 0 19.91,3.87ZM-4.50,23.57A23.99,23.99 0 0 1 -23.55,4.58L-19.91,3.87A20.28,20.28 0 0 0 -3.80,19.92ZM-23.55,-4.58A23.99,23.99 0 0 1 -4.50,-23.57L-3.80,-19.92A20.28,20.28 0 0 0 -19.91,-3.87ZM4.50,-23.57A23.99,23.99 0 0 1 23.55,-4.58L19.91,-3.87A20.28,20.28 0 0 0 3.80,-19.92Z" fill="#2aa1a6" fill-opacity="0.68"/>
<path d="M27.39,5.32A27.90,27.90 0 0 1 5.23,27.41L4.50,23.57A23.99,23.99 0 0 0 23.55,4.58ZM-5.23,27.41A27.90,27.90 0 0 1 -27.39,5.32L-23.55,4.58A23.99,23.99 0 0 0 -4.50,23.57ZM-27.39,-5.32A27.90,27.90 0 0 1 -5.23,-27.41L-4.50,-23.57A23.99,23.99 0 0 0 -23.55,-4.58ZM5.23,-27.41A27.90,27.90 0 0 1 27.39,-5.32L23.55,-4.58A23.99,23.99 0 0 0 4.50,-23.57Z" fill="#2aa1a6" fill-opacity="0.45"/>
<path d="M19.91,3.87A20.28,20.28 0 0 1 3.80,19.92M-3.80,19.92A20.28,20.28 0 0 1 -19.91,3.87M-19.91,-3.87A20.28,20.28 0 0 1 -3.80,-19.92M3.80,-19.92A20.28,20.28 0 0 1 19.91,-3.87" fill="none" stroke="#c2f5f5" stroke-opacity="0.85" stroke-width="1.06"/>
<path d="M23.55,4.58A23.99,23.99 0 0 1 4.50,23.57M-4.50,23.57A23.99,23.99 0 0 1 -23.55,4.58M-23.55,-4.58A23.99,23.99 0 0 1 -4.50,-23.57M4.50,-23.57A23.99,23.99 0 0 1 23.55,-4.58" fill="none" stroke="#c2f5f5" stroke-opacity="0.85" stroke-width="1.12"/>
<circle r="17.07" fill="#2aa1a6"/>
<circle r="16.82" fill="none" stroke="#c2f5f5" stroke-opacity="0.85" stroke-width="1.23"/>
<text x="0" y="4.62" font-size="10.4" text-anchor="middle" style="font-family:Liberation Sans,sans-serif" fill="#fff" fill-opacity="0.95" stroke="#fff" stroke-opacity="0.95" stroke-width="0.35" stroke-linejoin="round">123</text>
</g>
<g transform="translate(600.40,392.80)">
<path d="M19.91,3.87A20.28,20.28 0 0 1 3.80,19.92L3.25,17.05A17.35,17.35 0 0 0 17.03,3.31ZM-3.80,19.92A20.28,20.28 0 0 1 -19.91,3.87L-17.03,3.31A17.35,17.35 0 0 0 -3.25,17.05ZM-19.91,-3.87A20.28,20.28 0 0 1 -3.80,-19.92L-3.25,-17.05A17.35,17.35 0 0 0 -17.03,-3.31ZM3.80,-19.92A20.28,20.28 0 0 1 19.91,-3.87L17.03,-3.31A17.35,17.35 0 0 0 3.25,-17.05Z" fill="#8cc820" fill-opacity="0.7"/>
<path d="M23.55,4.58A23.99,23.99 0 0 1 4.50,23.57L3.80,19.92A20.28,20.28 0 0 0 19.91,3.87ZM-4.50,23.57A23.99,23.99 0 0 1 -23.55,4.58L-19.91,3.87A20.28,20.28 0 0 0 -3.80,19.92ZM-23.55,-4.58A23.99,23.99 0 0 1 -4.50,-23.57L-3.80,-19.92A20.28,20.28 0 0 0 -19.91,-3.87ZM4.50,-23.57A23.99,23.99 0 0 1 23.55,-4.58L19.91,-3.87A20.28,20.28 0 0 0 3.80,-19.92Z" fill="#8cc820" fill-opacity="0.54"/>
<path d="M27.39,5.32A27.90,27.90 0 0 1 5.23,27.41L4.50,23.57A23.99,23.99 0 0 0 23.55,4.58ZM-5.23,27.41A27.90,27.90 0 0 1 -27.39,5.32L-23.55,4.58A23.99,23.99 0 0 0 -4.50,23.57ZM-27.39,-5.32A27.90,27.90 0 0 1 -5.23,-27.41L-4.50,-23.57A23.99,23.99 0 0 0 -23.55,-4.58ZM5.23,-27.41A27.90,27.90 0 0 1 27.39,-5.32L23.55,-4.58A23.99,23.99 0 0 0 4.50,-23.57Z" fill="#8cc820" fill-opacity="0.4"/>
<path d="M19.91,3.87A20.28,20.28 0 0 1 3.80,19.92M-3.80,19.92A20.28,20.28 0 0 1 -19.91,3.87M-19.91,-3.87A20.28,20.28 0 0 1 -3.80,-19.92M3.80,-19.92A20.28,20.28 0 0 1 19.91,-3.87" fill="none" stroke="#ecffbe" stroke-opacity="0.85" stroke-width="1.06"/>
<path d="M23.55,4.58A23.99,23.99 0 0 1 4.50,23.57M-4.50,23.57A23.99,23.99 0 0 1 -23.55,4.58M-23.55,-4.58A23.99,23.99 0 0 1 -4.50,-23.57M4.50,-23.57A23.99,23.99 0 0 1 23.55,-4.58" fill="none" stroke="#ecffbe" stroke-opacity="0.85" stroke-width="1.12"/>
<circle r="17.07" fill="#8cc820"/>
<circle r="16.82" fill="none" stroke="#ecffbe" stroke-opacity="0.85" stroke-width="1.23"/>
<text x="0" y="4.62" font-size="10.4" text-anchor="middle" style="font-family:Liberation Sans,sans-serif" fill="#fff" fill-opacity="0.82" stroke="#fff" stroke-opacity="0.82" stroke-width="0.35" stroke-linejoin="round">123</text>
</g>
<g transform="translate(676.90,392.80)">
<path d="M19.91,3.87A20.28,20.28 0 0 1 3.80,19.92L3.25,17.05A17.35,17.35 0 0 0 17.03,3.31ZM-3.80,19.92A20.28,20.28 0 0 1 -19.91,3.87L-17.03,3.31A17.35,17.35 0 0 0 -3.25,17.05ZM-19.91,-3.87A20.28,20.28 0 0 1 -3.80,-19.92L-3.25,-17.05A17.35,17.35 0 0 0 -17.03,-3.31ZM3.80,-19.92A20.28,20.28 0 0 1 19.91,-3.87L17.03,-3.31A17.35,17.35 0 0 0 3.25,-17.05Z" fill="#f6a42c" fill-opacity="0.64"/>
<path d="M23.55,4.58A23.99,23.99 0 0 1 4.50,23.57L3.80,19.92A20.28,20.28 0 0 0 19.91,3.87ZM-4.50,23.57A23.99,23.99 0 0 1 -23.55,4.58L-19.91,3.87A20.28,20.28 0 0 0 -3.80,19.92ZM-23.55,-4.58A23.99,23.99 0 0 1 -4.50,-23.57L-3.80,-19.92A20.28,20.28 0 0 0 -19.91,-3.87ZM4.50,-23.57A23.99,23.99 0 0 1 23.55,-4.58L19.91,-3.87A20.28,20.28 0 0 0 3.80,-19.92Z" fill="#f6a42c" fill-opacity="0.5"/>
<path d="M27.39,5.32A27.90,27.90 0 0 1 5.23,27.41L4.50,23.57A23.99,23.99 0 0 0 23.55,4.58ZM-5.23,27.41A27.90,27.90 0 0 1 -27.39,5.32L-23.55,4.58A23.99,23.99 0 0 0 -4.50,23.57ZM-27.39,-5.32A27.90,27.90 0 0 1 -5.23,-27.41L-4.50,-23.57A23.99,23.99 0 0 0 -23.55,-4.58ZM5.23,-27.41A27.90,27.90 0 0 1 27.39,-5.32L23.55,-4.58A23.99,23.99 0 0 0 4.50,-23.57Z" fill="#f6a42c" fill-opacity="0.37"/>
<path d="M19.91,3.87A20.28,20.28 0 0 1 3.80,19.92M-3.80,19.92A20.28,20.28 0 0 1 -19.91,3.87M-19.91,-3.87A20.28,20.28 0 0 1 -3.80,-19.92M3.80,-19.92A20.28,20.28 0 0 1 19.91,-3.87" fill="none" stroke="#fff1cf" stroke-opacity="0.85" stroke-width="1.06"/>
<path d="M23.55,4.58A23.99,23.99 0 0 1 4.50,23.57M-4.50,23.57A23.99,23.99 0 0 1 -23.55,4.58M-23.55,-4.58A23.99,23.99 0 0 1 -4.50,-23.57M4.50,-23.57A23.99,23.99 0 0 1 23.55,-4.58" fill="none" stroke="#fff1cf" stroke-opacity="0.85" stroke-width="1.12"/>
<circle r="17.07" fill="#f6a42c"/>
<circle r="16.82" fill="none" stroke="#fff1cf" stroke-opacity="0.85" stroke-width="1.23"/>
<text x="0" y="4.62" font-size="10.4" text-anchor="middle" style="font-family:Liberation Sans,sans-serif" fill="#fff" fill-opacity="0.78" stroke="#fff" stroke-opacity="0.78" stroke-width="0.35" stroke-linejoin="round">123</text>
</g>
</svg>
<div id="rib"><span id="ribt">Fully Editable</span></div>
</body></html>
